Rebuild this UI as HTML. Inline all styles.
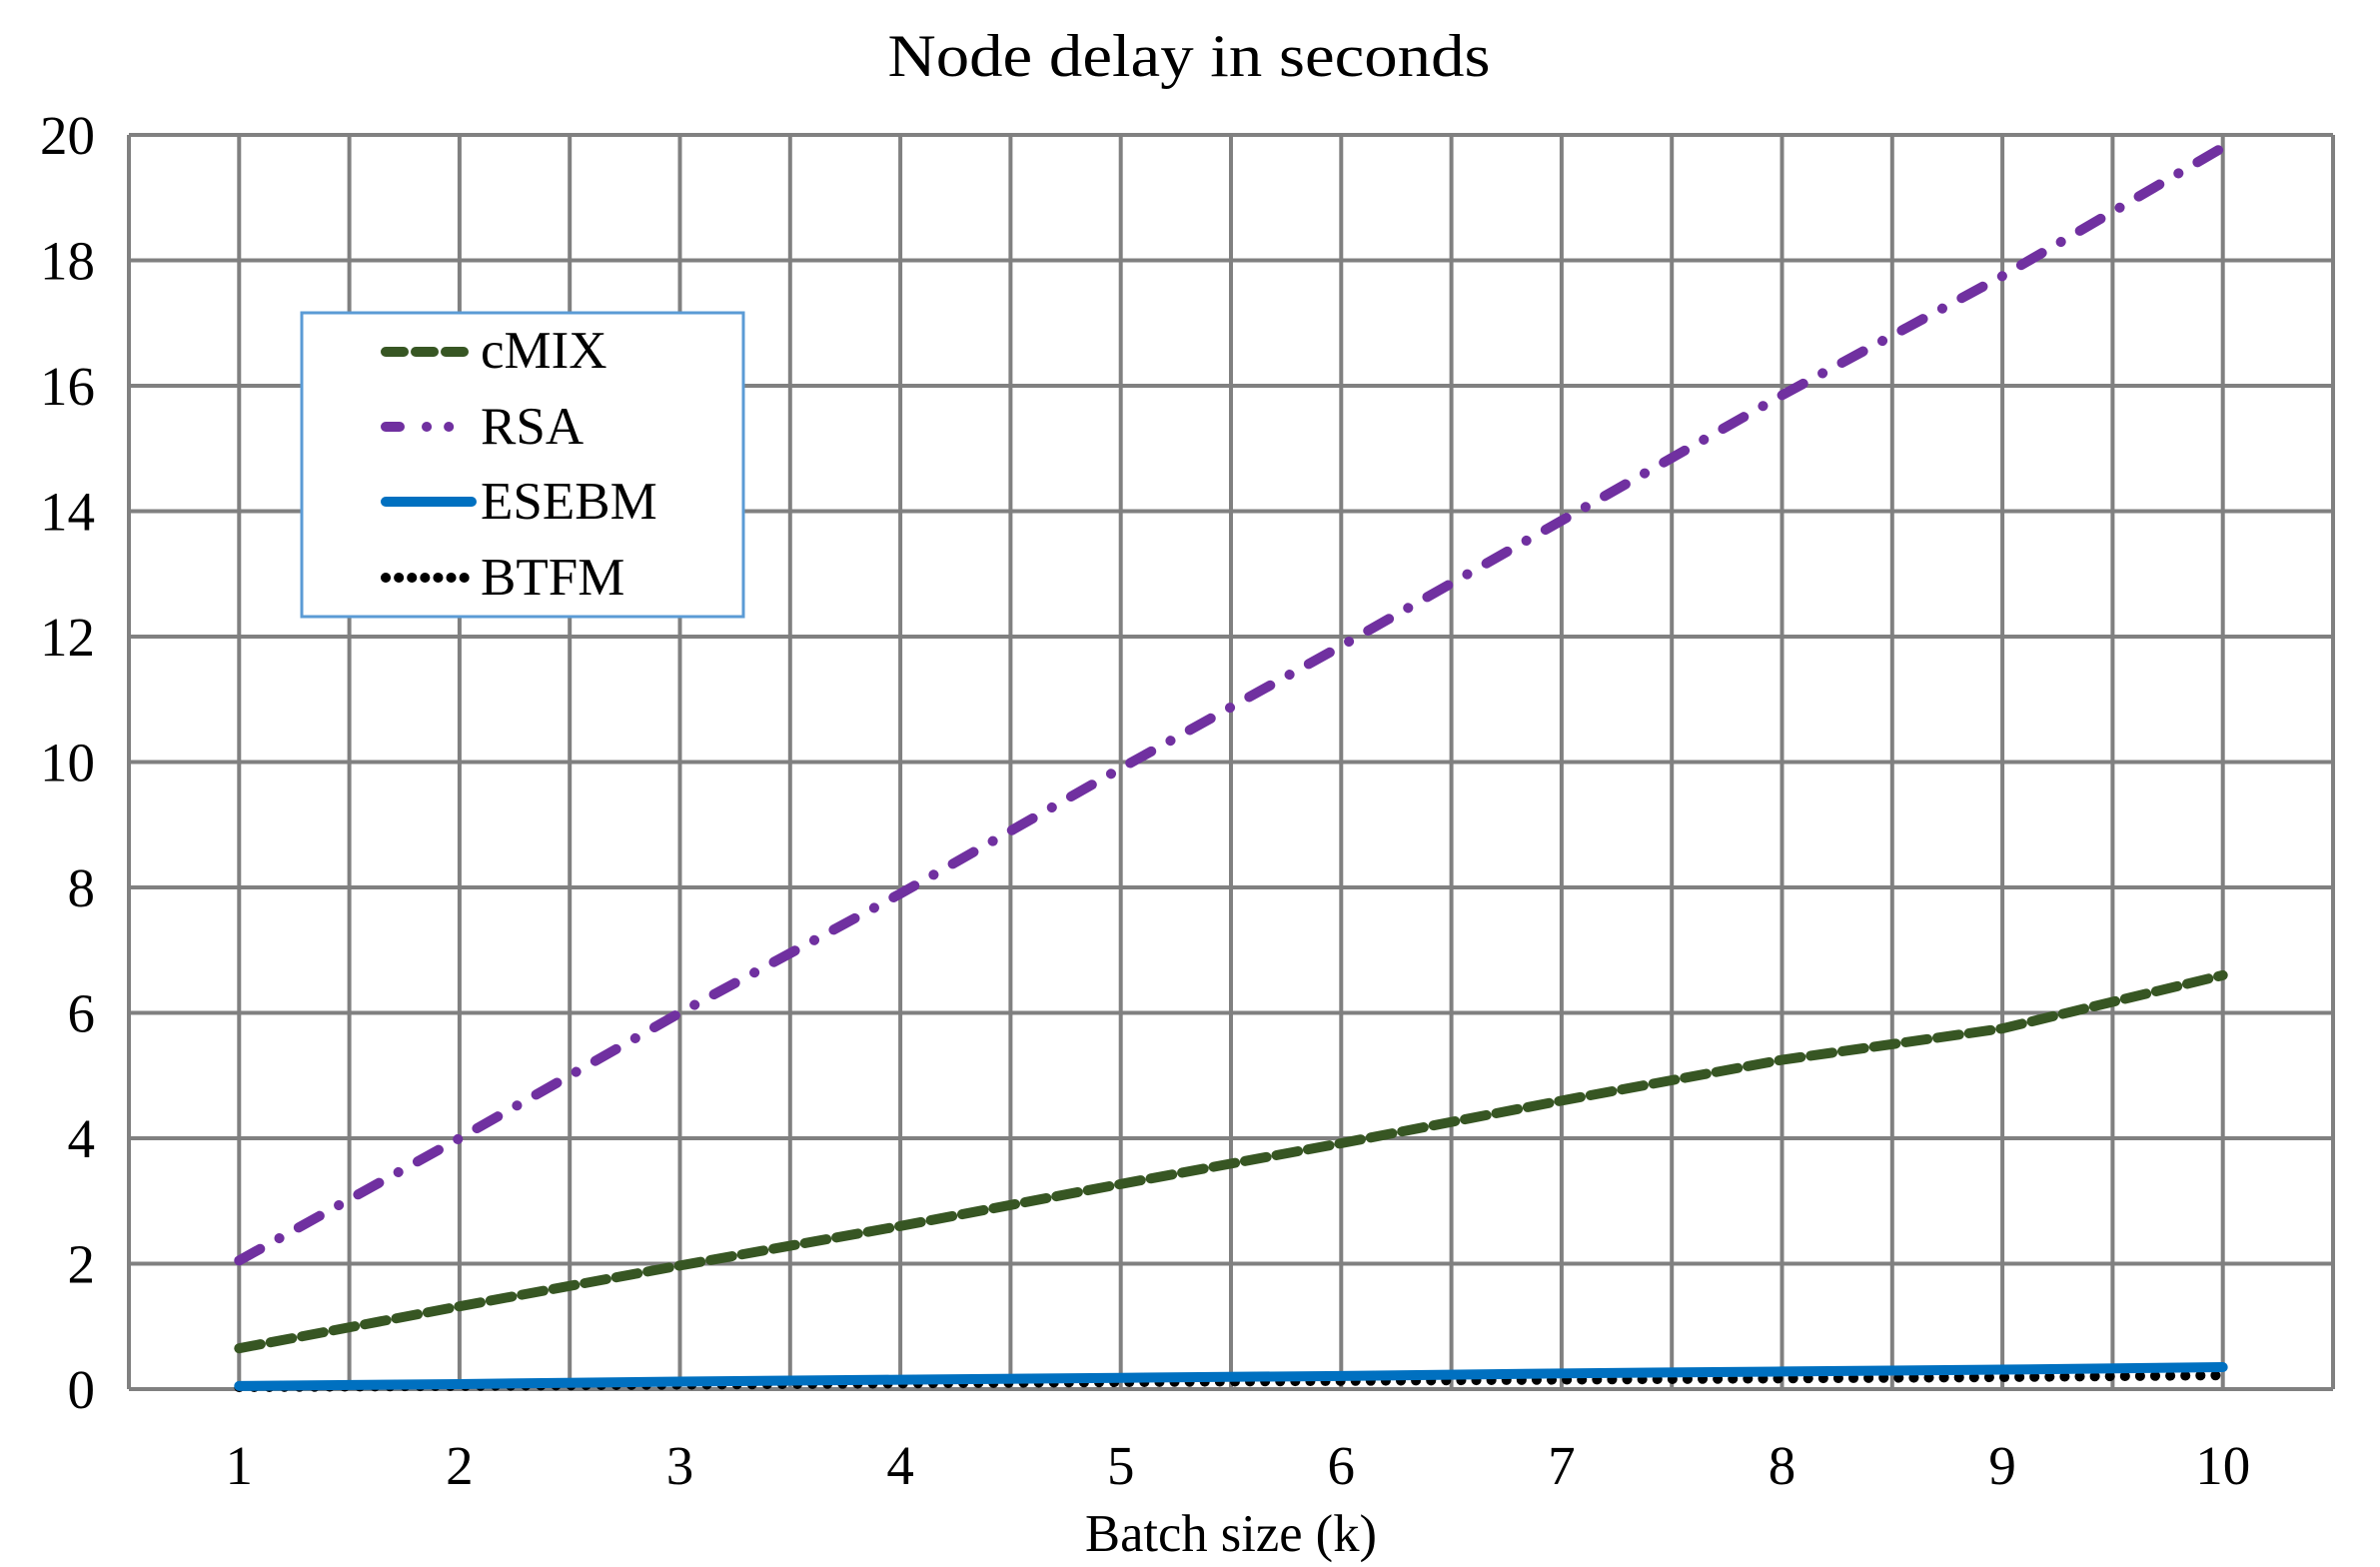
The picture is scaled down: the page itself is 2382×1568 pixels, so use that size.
<!DOCTYPE html>
<html><head><meta charset="utf-8"><style>body{margin:0;background:#fff}svg{display:block}</style></head>
<body>
<svg width="2382" height="1568" xmlns="http://www.w3.org/2000/svg" font-family="Liberation Serif, serif">
<rect width="2382" height="1568" fill="#fff"/>
<script>
(function(){
var ns="http://www.w3.org/2000/svg",svg=document.currentScript.parentNode;
var L=129,R=2335,T=135,B=1390,dx=(R-L)/20,dy=(B-T)/20;
var g=document.createElementNS(ns,"g");g.setAttribute("stroke","#808080");g.setAttribute("stroke-width","4");
for(var k=0;k<=20;k++){var l=document.createElementNS(ns,"line");var x=L+k*dx;l.setAttribute("x1",x);l.setAttribute("x2",x);l.setAttribute("y1",T);l.setAttribute("y2",B);g.appendChild(l);}
for(var v=0;v<=20;v+=2){var l=document.createElementNS(ns,"line");var y=B-v*dy;l.setAttribute("x1",L);l.setAttribute("x2",R);l.setAttribute("y1",y);l.setAttribute("y2",y);g.appendChild(l);
var t=document.createElementNS(ns,"text");t.setAttribute("x",95);t.setAttribute("y",y+19);t.setAttribute("text-anchor","end");t.setAttribute("font-size","55");t.textContent=v;svg.appendChild(t);}
svg.insertBefore(g,svg.children[1]);
for(var i=1;i<=10;i++){var t=document.createElementNS(ns,"text");t.setAttribute("x",L+(2*i-1)*dx);t.setAttribute("y",1485);t.setAttribute("text-anchor","middle");t.setAttribute("font-size","55");t.textContent=i;svg.appendChild(t);}
function px(i){return L+(2*i-1)*dx;}
var series=[
[[0.03,0.05,0.07,0.09,0.11,0.13,0.15,0.17,0.19,0.22],"#000",10,"0.1 15"],
[[0.05,0.08,0.12,0.15,0.18,0.21,0.25,0.28,0.31,0.35],"#0070c0",10,""],
[[0.65,1.32,1.97,2.6,3.27,3.92,4.6,5.25,5.75,6.6],"#375623",10,"22 10"],
[[2.05,4.0,6.0,7.9,9.9,11.85,13.85,15.85,17.75,19.8],"#7030a0",10,"24 22 0.1 22"]];
series.forEach(function(s){var p=document.createElementNS(ns,"polyline");var pts=s[0].map(function(v,j){return px(j+1)+","+(B-v*(B-T)/20)}).join(" ");
p.setAttribute("points",pts);p.setAttribute("fill","none");p.setAttribute("stroke",s[1]);p.setAttribute("stroke-width",s[2]);p.setAttribute("stroke-linecap","round");p.setAttribute("stroke-linejoin","round");if(s[3])p.setAttribute("stroke-dasharray",s[3]);svg.appendChild(p);});
})();
</script>
<rect x="302" y="313" width="442" height="304" fill="#fff" stroke="#5b9bd5" stroke-width="3"/>
<line x1="386" y1="352" x2="464" y2="352" stroke="#375623" stroke-width="10" stroke-linecap="round" stroke-dasharray="18 12"/>
<line x1="386" y1="427" x2="470" y2="427" stroke="#7030a0" stroke-width="10" stroke-linecap="round" stroke-dasharray="14 27 0.1 22 0.1 40"/>
<line x1="386" y1="502" x2="472" y2="502" stroke="#0070c0" stroke-width="10" stroke-linecap="round"/>
<line x1="386" y1="578" x2="466" y2="578" stroke="#000" stroke-width="10" stroke-linecap="round" stroke-dasharray="0.1 13"/>
<g font-size="53" fill="#000">
<text x="481" y="368">cMIX</text>
<text x="481" y="444">RSA</text>
<text x="481" y="519">ESEBM</text>
<text x="481" y="595">BTFM</text>
</g>
<text x="1190" y="76" text-anchor="middle" font-size="60" textLength="603" lengthAdjust="spacingAndGlyphs">Node delay in seconds</text>
<text x="1232" y="1552" text-anchor="middle" font-size="53" textLength="292" lengthAdjust="spacingAndGlyphs">Batch size (k)</text>
</svg>
</body></html>
